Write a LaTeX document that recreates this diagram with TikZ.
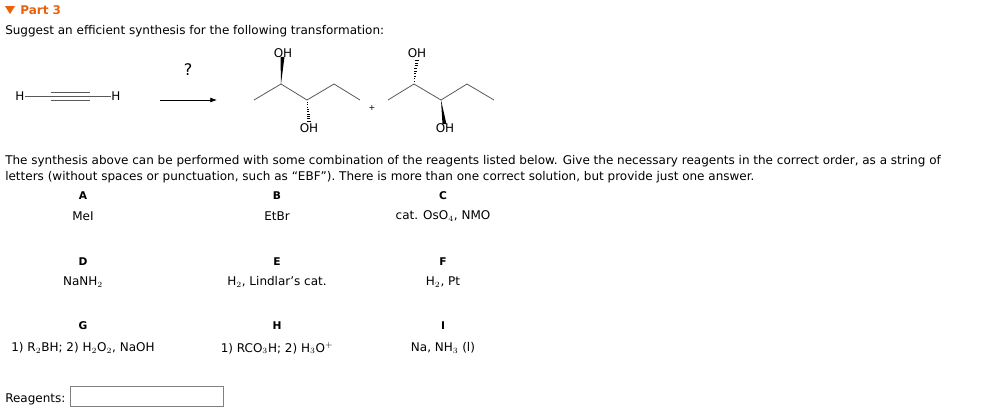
\documentclass[tikz,border=0pt]{standalone}
\usepackage{fontspec}
\setmainfont{DejaVu Sans}
\usetikzlibrary{arrows.meta}
\definecolor{partorange}{HTML}{E8620C}
\tikzset{
  txt/.style={inner sep=0pt, anchor=west, font=\fontsize{9}{11}\selectfont},
  lbl/.style={inner sep=0pt, font=\fontsize{9}{11}\selectfont},
  letter/.style={inner sep=0pt, font=\fontsize{8}{10}\selectfont\bfseries},
  bond/.style={line width=0.6pt, gray!70!black},
  wedge/.style={fill=black},
}
\newcommand{\hashbond}[2]{% from #1 (narrow) to #2 (wide)
  \foreach \t in {0.1,0.2,...,0.95}
    \draw[line width=0.5pt] ($(#1)!\t!(#2)+(-2.2*\t,0)$) -- ($(#1)!\t!(#2)+(2.2*\t,0)$);}
\usetikzlibrary{calc}
\begin{document}
\begin{tikzpicture}[x=0.75pt,y=-0.75pt]
  \useasboundingbox (0,0) rectangle (983,419);

  % Header
  \fill[partorange] (5,6) -- (15,6) -- (10,14) -- cycle;
  \node[txt, text=partorange, font=\fontsize{9}{11}\selectfont\bfseries] (part) at (20,10) {Part 3};
  \node[txt] (task) at (5,31) {Suggest an efficient synthesis for the following transformation:};

  % Acetylene
  \node[lbl] (h1) at (20,96) {H};
  \node[lbl] (h2) at (116,96) {H};
  \draw[bond] (h1.east) -- (h2.west);
  \draw[bond] ([yshift=3pt]$(h1.east)!0.3!(h2.west)$) -- ([yshift=3pt]$(h1.east)!0.75!(h2.west)$);
  \draw[bond] ([yshift=-3pt]$(h1.east)!0.3!(h2.west)$) -- ([yshift=-3pt]$(h1.east)!0.75!(h2.west)$);

  % Arrow
  \coordinate (arrs) at (160,100);
  \coordinate (arre) at (217,100);
  \draw[-{Latex[length=5pt]}, line width=0.6pt] (arrs) -- (arre);
  \node[lbl, font=\fontsize{12}{14}\selectfont] (q) at (188,70) {?};

  % Product 1
  \coordinate (a1) at (254,100);
  \coordinate (a2) at (281,84);
  \coordinate (a3) at (307,100);
  \coordinate (a4) at (334,84);
  \coordinate (a5) at (360,100);
  \draw[bond] (a1) -- (a2) -- (a3) -- (a4) -- (a5);
  \node[lbl] (oh1) at (283,53) {OH};
  \node[lbl] (oh2) at (309,128) {OH};
  \fill[wedge] (a2) -- ($(oh1.south)+(-2.5,-1)$) -- ($(oh1.south)+(1.5,-1)$) -- cycle;
  \hashbond{a3}{oh2.north}

  \node[lbl, font=\fontsize{6}{7}\selectfont] (plus) at (372,108) {+};

  % Product 2
  \coordinate (b1) at (388,100);
  \coordinate (b2) at (414,84);
  \coordinate (b3) at (441,100);
  \coordinate (b4) at (467,84);
  \coordinate (b5) at (494,100);
  \draw[bond] (b1) -- (b2) -- (b3) -- (b4) -- (b5);
  \node[lbl] (oh3) at (417,53) {OH};
  \node[lbl] (oh4) at (445,128) {OH};
  \hashbond{b2}{oh3.south}
  \fill[wedge] (b3) -- ($(oh4.north)+(-2.5,1)$) -- ($(oh4.north)+(1.5,1)$) -- cycle;

  % Question
  \node[txt] (q1) at (5,161) {The synthesis above can be performed with some combination of the reagents listed below. Give the necessary reagents in the correct order, as a string of};
  \node[txt] (q2) at (5,177) {letters (without spaces or punctuation, such as “EBF”). There is more than one correct solution, but provide just one answer.};

  % Reagents table
  \node[letter] (la) at (83,196) {A};
  \node[lbl] (ra) at (83,216) {MeI};
  \node[letter] (lb) at (277,196) {B};
  \node[lbl] (rb) at (277,216) {EtBr};
  \node[letter] (lc) at (443,196) {C};
  \node[lbl] (rc) at (443,216) {cat. OsO$_4$, NMO};
  \node[letter] (ld) at (83,262) {D};
  \node[lbl] (rd) at (83,282) {NaNH$_2$};
  \node[letter] (le) at (277,262) {E};
  \node[lbl] (re) at (277,282) {H$_2$, Lindlar's cat.};
  \node[letter] (lf) at (443,262) {F};
  \node[lbl] (rf) at (443,282) {H$_2$, Pt};
  \node[letter] (lg) at (83,326) {G};
  \node[lbl] (rg) at (83,348) {1) R$_2$BH; 2) H$_2$O$_2$, NaOH};
  \node[letter] (lh) at (277,326) {H};
  \node[lbl] (rh) at (277,348) {1) RCO$_3$H; 2) H$_3$O$^+$};
  \node[letter] (li) at (443,326) {I};
  \node[lbl] (ri) at (443,348) {Na, NH$_3$ (l)};

  % Answer box
  \node[txt] (reag) at (5,399) {Reagents:};
  \draw[gray, line width=0.6pt] (70,386) rectangle (223,406);
\end{tikzpicture}
\end{document}
